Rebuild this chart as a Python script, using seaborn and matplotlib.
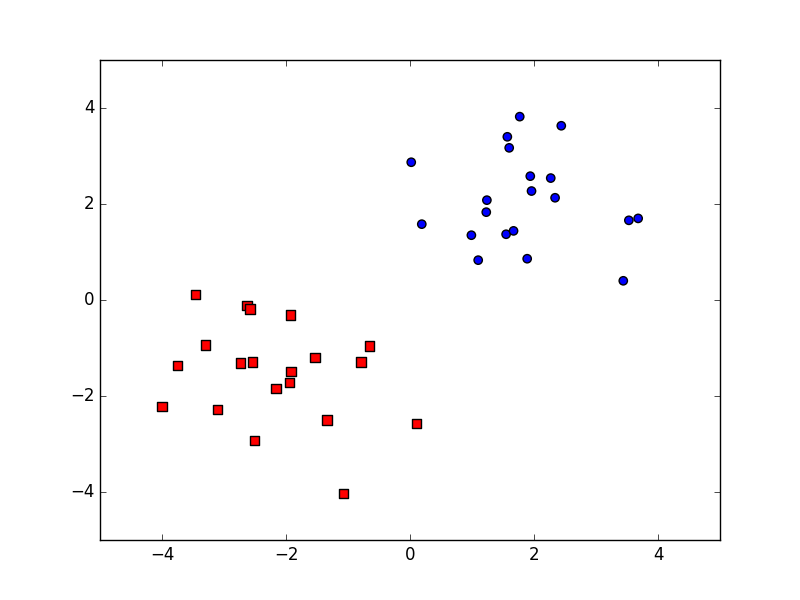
import numpy as np
import pandas as pd
import matplotlib
matplotlib.use("Agg")
import matplotlib.pyplot as plt
import seaborn as sns

# blue circles (upper right group)
blue_x = [1.77, 2.44, 1.57, 1.60, 0.02, 1.94, 2.27, 1.96, 2.34, 1.24,
          1.23, 0.19, 3.53, 3.68, 0.99, 1.55, 1.67, 1.10, 1.89, 3.44]
blue_y = [3.82, 3.63, 3.40, 3.17, 2.87, 2.58, 2.54, 2.27, 2.13, 2.08,
          1.83, 1.58, 1.66, 1.70, 1.35, 1.37, 1.44, 0.83, 0.86, 0.40]

# red squares (lower left group)
red_x = [-3.46, -2.63, -2.58, -1.93, -3.30, -3.75, -2.73, -2.54, -1.53, -0.65,
         -0.79, -1.92, -1.94, -2.16, -4.00, -3.10, -1.34, 0.11, -2.51, -1.07]
red_y = [0.12, -0.11, -0.19, -0.31, -0.94, -1.37, -1.31, -1.29, -1.20, -0.96,
         -1.29, -1.49, -1.72, -1.85, -2.22, -2.28, -2.50, -2.58, -2.92, -4.03]

df = pd.DataFrame({
    "x": blue_x + red_x,
    "y": blue_y + red_y,
    "group": ["blue"] * len(blue_x) + ["red"] * len(red_x),
})

plt.style.use("classic")
fig, ax = plt.subplots(figsize=(8, 6), dpi=100)
fig.patch.set_facecolor("white")

sns.scatterplot(data=df, x="x", y="y", hue="group", style="group", size="group",
                palette={"blue": "blue", "red": "red"},
                markers={"blue": "o", "red": "s"},
                sizes={"blue": 36, "red": 45},
                edgecolor="black", linewidth=1, legend=False, ax=ax)

ax.set_xlim(-5, 5)
ax.set_ylim(-5, 5)
ax.set_xticks([-4, -2, 0, 2, 4])
ax.set_yticks([-4, -2, 0, 2, 4])
ax.set_xlabel("")
ax.set_ylabel("")

fig.savefig("out.png", dpi=100, facecolor="white")
